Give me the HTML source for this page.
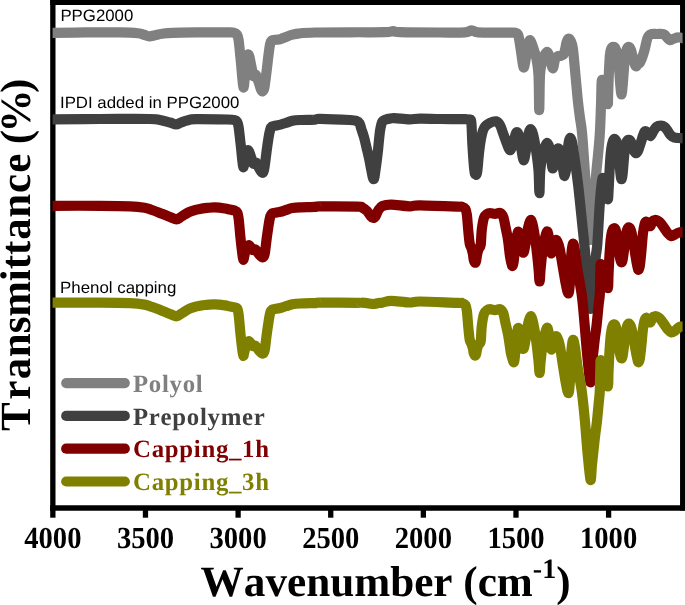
<!DOCTYPE html>
<html><head><meta charset="utf-8"><title>FTIR</title>
<style>
html,body{margin:0;padding:0;background:#fff;}
body{width:685px;height:605px;overflow:hidden;}
svg{display:block;font-kerning:none;text-rendering:geometricPrecision;}
.ser{font-family:"Liberation Serif",serif;font-weight:bold;}
.san{font-family:"Liberation Sans",sans-serif;}
</style></head><body>
<svg width="685" height="605" viewBox="0 0 685 605">
<rect width="685" height="605" fill="#fff"/>
<g fill="none" stroke="#000" stroke-width="5.3">
<line x1="50.2" y1="2.4" x2="685" y2="2.4"/>
<line x1="52.85" y1="0" x2="52.85" y2="510.5"/>
<line x1="682.7" y1="0" x2="682.7" y2="510.5"/>
<line x1="50.2" y1="508" x2="685" y2="508" stroke-width="5.6"/>
<line x1="52.85" y1="507.8" x2="52.85" y2="517.7"/><line x1="145.47" y1="507.8" x2="145.47" y2="517.7"/><line x1="238.10" y1="507.8" x2="238.10" y2="517.7"/><line x1="330.73" y1="507.8" x2="330.73" y2="517.7"/><line x1="423.35" y1="507.8" x2="423.35" y2="517.7"/><line x1="515.98" y1="507.8" x2="515.98" y2="517.7"/><line x1="608.60" y1="507.8" x2="608.60" y2="517.7"/>
</g>
<clipPath id="c"><rect x="52.6" y="0" width="630" height="520"/></clipPath>
<g fill="none" stroke-width="10.2" stroke-linejoin="round" stroke-linecap="butt" clip-path="url(#c)">
<path d="M45.0 32.9C46.3 32.9 46.2 33.0 52.9 32.9C59.5 32.8 73.8 32.5 85.0 32.4C96.2 32.3 111.2 32.3 120.0 32.4C128.8 32.5 134.0 32.8 138.0 33.2C142.0 33.6 142.1 34.3 144.0 34.8C145.9 35.3 147.5 36.2 149.3 36.3C151.1 36.4 152.9 35.6 155.0 35.2C157.1 34.8 159.1 34.2 162.0 33.8C164.9 33.4 166.3 33.0 172.6 32.8C178.9 32.6 190.8 32.5 200.0 32.4C209.2 32.3 222.3 32.3 228.0 32.4C233.7 32.5 232.5 32.4 234.0 32.8C235.5 33.1 236.2 33.3 237.0 34.5C237.8 35.7 238.0 36.1 238.6 40.0C239.2 43.9 239.8 51.3 240.5 58.0C241.2 64.7 242.0 75.1 242.5 80.0C243.0 84.9 243.1 87.2 243.4 87.5C243.7 87.8 244.0 85.6 244.4 82.0C244.8 78.4 245.3 70.6 246.0 66.0C246.7 61.4 247.6 54.2 248.5 54.4C249.4 54.6 250.7 63.5 251.5 67.1C252.3 70.7 252.7 74.7 253.4 76.0C254.1 77.3 255.0 73.6 255.9 74.8C256.8 76.0 258.0 80.5 258.9 83.0C259.8 85.5 260.4 88.1 261.0 89.5C261.6 90.9 262.0 91.6 262.6 91.2C263.2 90.8 263.9 90.2 264.5 87.0C265.1 83.8 265.8 77.3 266.5 72.0C267.2 66.7 267.9 59.7 268.5 55.0C269.1 50.3 269.6 46.4 270.1 44.0C270.7 41.6 270.8 41.2 271.8 40.5C272.8 39.8 274.6 40.0 276.0 39.8C277.4 39.6 278.8 39.6 280.5 39.1C282.2 38.6 284.0 37.8 286.0 37.0C288.0 36.2 290.1 35.2 292.4 34.6C294.7 34.0 296.2 33.6 300.0 33.3C303.8 32.9 306.7 32.7 315.0 32.5C323.3 32.3 338.3 32.3 350.0 32.3C361.7 32.2 377.8 32.4 385.0 32.2C392.2 32.0 390.5 31.2 393.0 31.2C395.5 31.2 392.2 32.0 400.0 32.2C407.8 32.4 429.2 32.5 440.0 32.5C450.8 32.5 459.7 32.7 465.0 32.3C470.3 31.9 469.6 30.3 471.8 30.3C474.0 30.3 473.3 31.9 478.0 32.3C482.7 32.7 494.3 32.5 500.0 32.6C505.7 32.7 509.2 32.5 512.0 32.6C514.8 32.7 515.4 32.6 516.5 33.2C517.6 33.8 517.8 33.5 518.5 36.0C519.2 38.5 519.8 43.7 520.5 48.0C521.2 52.3 522.0 58.7 522.5 62.0C523.0 65.3 523.3 67.6 523.8 67.6C524.2 67.6 524.6 65.3 525.2 62.0C525.8 58.7 526.7 51.6 527.5 48.0C528.3 44.4 528.9 40.4 529.8 40.2C530.7 40.0 531.9 43.9 533.0 47.0C534.1 50.1 535.6 54.3 536.5 59.0C537.4 63.7 538.0 66.5 538.5 75.0C539.0 83.5 539.0 110.1 539.2 110.1C539.5 110.1 539.5 83.0 540.0 75.0C540.5 67.0 541.2 65.3 542.0 62.0C542.8 58.7 543.7 56.6 544.6 55.0C545.5 53.4 546.7 51.6 547.6 52.1C548.5 52.6 549.1 55.3 550.0 58.0C550.9 60.7 552.0 68.0 552.8 68.3C553.6 68.5 554.2 61.5 555.0 59.5C555.8 57.5 556.5 56.9 557.5 56.3C558.5 55.7 560.0 56.1 561.0 55.8C562.0 55.5 562.8 55.6 563.5 54.5C564.2 53.4 564.7 51.0 565.2 49.0C565.7 47.0 566.0 44.2 566.5 42.5C567.0 40.8 567.8 38.9 568.5 38.7C569.2 38.5 570.3 39.8 571.0 41.5C571.7 43.2 572.2 44.0 572.9 48.7C573.6 53.5 574.2 61.6 575.0 70.0C575.8 78.4 576.9 91.3 577.7 99.3C578.5 107.3 579.2 112.1 580.0 118.0C580.8 123.9 581.3 124.1 582.2 134.6C583.1 145.1 584.5 166.8 585.5 181.0C586.5 195.2 587.7 210.2 588.5 220.0C589.3 229.8 589.8 240.0 590.5 240.0C591.2 240.0 591.7 229.8 592.5 220.0C593.3 210.2 594.3 194.8 595.5 181.0C596.7 167.2 598.7 149.7 599.6 137.0C600.5 124.3 600.6 114.4 601.0 105.0C601.4 95.6 601.3 83.3 601.8 80.5C602.3 77.7 603.0 84.1 604.0 88.0C605.0 91.9 606.8 102.8 607.5 104.0C608.2 105.2 607.9 99.8 608.1 95.0C608.3 90.2 608.5 81.7 608.8 75.0C609.1 68.3 609.5 59.4 609.9 55.0C610.3 50.6 610.7 49.9 611.3 48.5C611.9 47.1 612.6 46.9 613.3 46.9C614.0 46.9 614.8 47.1 615.5 48.5C616.2 49.9 616.9 51.8 617.5 55.0C618.1 58.2 618.5 63.0 619.0 68.0C619.5 73.0 619.9 80.6 620.3 85.0C620.7 89.4 621.1 94.5 621.5 94.5C621.9 94.5 622.3 89.4 622.7 85.0C623.1 80.6 623.6 73.0 624.0 68.0C624.4 63.0 624.8 58.2 625.3 55.0C625.8 51.8 626.4 49.9 627.0 48.5C627.6 47.1 628.2 46.6 628.9 46.9C629.6 47.1 630.3 48.1 631.0 50.0C631.7 51.9 632.2 55.3 633.0 58.0C633.8 60.7 634.8 65.0 635.6 66.1C636.4 67.1 637.1 64.9 637.8 64.3C638.5 63.7 639.3 63.5 640.0 62.5C640.7 61.5 641.2 60.0 642.0 58.0C642.8 56.0 643.6 53.5 644.5 50.2C645.4 46.9 646.5 40.6 647.5 38.0C648.5 35.4 648.9 35.0 650.5 34.3C652.1 33.6 654.8 34.0 657.0 34.0C659.2 34.0 662.2 33.7 663.9 34.3C665.6 34.9 666.0 36.5 667.0 37.5C668.0 38.5 668.8 39.9 669.8 40.1C670.8 40.4 671.8 39.4 673.0 39.0C674.2 38.6 675.8 37.8 677.0 37.5C678.2 37.2 679.2 37.4 680.2 37.5C681.2 37.6 681.1 38.0 682.7 38.3C684.3 38.5 688.8 38.9 690.0 39.0" stroke="#808080"/>
<path d="M45.0 119.3C46.3 119.3 43.7 119.3 52.9 119.3C62.0 119.2 83.8 119.0 100.0 119.0C116.2 119.0 140.0 118.8 150.0 119.0C160.0 119.2 156.7 119.4 160.0 120.0C163.3 120.6 167.3 121.8 170.0 122.5C172.7 123.2 174.2 124.5 176.0 124.5C177.8 124.5 179.0 123.2 181.0 122.5C183.0 121.8 185.6 120.8 188.0 120.3C190.4 119.8 189.0 119.3 195.7 119.2C202.4 119.1 221.6 119.4 228.0 119.5C234.4 119.6 232.5 119.7 234.0 120.0C235.5 120.3 236.2 120.4 237.0 121.6C237.8 122.8 238.0 123.4 238.6 127.0C239.2 130.6 239.8 137.2 240.5 143.0C241.2 148.8 242.0 157.9 242.5 162.0C243.0 166.1 243.0 167.1 243.3 167.3C243.6 167.5 244.0 165.1 244.4 163.0C244.8 160.9 245.3 157.1 246.0 155.0C246.7 152.9 247.7 150.0 248.5 150.3C249.3 150.6 250.2 154.8 251.0 157.0C251.8 159.2 252.3 162.5 253.2 163.5C254.1 164.5 255.3 162.1 256.3 162.8C257.3 163.6 258.1 166.4 259.0 168.0C259.9 169.6 261.1 172.2 261.9 172.5C262.7 172.8 263.2 173.4 264.0 170.0C264.8 166.6 265.8 157.3 266.5 152.0C267.2 146.7 267.9 141.8 268.5 138.0C269.1 134.2 269.8 130.9 270.4 129.0C270.9 127.1 270.9 127.2 271.8 126.6C272.7 126.0 274.6 125.8 276.0 125.5C277.4 125.2 278.8 125.0 280.5 124.6C282.2 124.1 284.0 123.4 286.0 122.8C288.0 122.2 290.1 121.3 292.4 120.8C294.7 120.3 296.2 120.2 300.0 120.0C303.8 119.8 311.7 119.8 315.0 119.6C318.3 119.4 314.2 118.8 320.0 118.9C325.8 119.0 344.0 119.7 350.0 120.0C356.0 120.3 354.4 120.3 356.0 120.8C357.6 121.3 358.5 121.5 359.4 123.0C360.3 124.5 360.7 127.1 361.5 129.5C362.3 131.9 363.1 134.1 364.0 137.2C364.9 140.3 365.7 144.3 366.6 148.0C367.5 151.7 368.6 156.0 369.3 159.5C370.1 163.0 370.5 166.1 371.1 169.0C371.7 171.9 372.3 175.3 372.7 177.0C373.1 178.7 373.3 179.2 373.6 179.2C373.9 179.2 374.1 179.4 374.5 177.0C374.9 174.6 375.6 169.2 376.2 165.0C376.8 160.8 377.3 156.3 377.8 152.1C378.3 147.9 378.6 143.5 379.0 140.0C379.4 136.5 379.6 133.5 380.0 131.0C380.4 128.5 380.8 126.6 381.2 125.0C381.6 123.4 381.7 122.4 382.5 121.5C383.3 120.6 384.8 120.0 386.0 119.5C387.2 119.0 388.5 118.8 389.9 118.6C391.3 118.4 391.2 118.0 394.4 118.1C397.6 118.2 405.0 119.2 409.3 119.3C413.6 119.4 414.9 118.6 420.0 118.6C425.1 118.5 432.5 118.9 440.0 119.0C447.5 119.1 460.1 119.1 465.0 119.2C469.9 119.3 468.4 119.3 469.5 119.8C470.6 120.3 470.8 117.9 471.3 122.0C471.8 126.1 471.9 136.6 472.4 144.6C472.9 152.6 473.7 165.0 474.3 170.0C474.9 175.0 475.3 174.5 475.8 174.7C476.3 174.9 476.8 174.6 477.3 171.0C477.8 167.4 478.4 158.4 479.0 153.0C479.6 147.6 480.3 142.4 481.0 138.7C481.7 134.9 482.2 132.6 483.0 130.5C483.8 128.4 484.3 127.3 485.5 126.0C486.7 124.7 488.3 123.6 490.0 122.8C491.7 122.0 494.2 120.9 495.9 121.3C497.6 121.7 498.8 123.0 500.0 125.0C501.2 127.0 501.8 129.8 503.0 133.0C504.2 136.2 505.8 141.1 507.0 144.0C508.2 146.9 509.2 150.4 510.2 150.2C511.2 150.0 512.1 145.6 513.0 143.0C513.9 140.4 514.8 136.3 515.5 134.5C516.2 132.7 516.5 131.8 517.1 132.1C517.7 132.3 518.3 133.0 519.0 136.0C519.7 139.0 520.7 145.9 521.5 150.0C522.3 154.1 523.0 160.3 523.8 160.3C524.5 160.3 525.2 154.4 526.0 150.0C526.8 145.6 527.8 137.5 528.5 134.0C529.2 130.5 529.8 129.1 530.5 129.1C531.2 129.1 532.1 130.5 533.0 134.0C533.9 137.5 535.1 144.0 536.0 150.0C536.9 156.0 537.9 162.8 538.5 170.0C539.1 177.2 539.1 193.1 539.4 193.1C539.7 193.1 539.7 176.8 540.3 170.0C540.9 163.2 542.0 156.2 543.0 152.0C544.0 147.8 545.2 145.9 546.0 144.5C546.8 143.1 547.0 142.7 547.6 143.3C548.2 143.9 548.9 144.9 549.5 148.0C550.1 151.1 551.0 158.6 551.5 162.0C552.0 165.4 552.3 168.5 552.8 168.5C553.3 168.5 553.6 164.9 554.3 162.0C555.0 159.1 556.0 153.2 556.8 151.0C557.5 148.8 558.1 147.8 558.8 148.5C559.5 149.2 560.3 151.4 561.0 155.0C561.7 158.6 562.6 166.5 563.2 170.0C563.8 173.5 564.2 176.3 564.7 176.0C565.2 175.7 565.7 173.2 566.3 168.0C566.9 162.8 567.7 150.0 568.3 145.0C568.9 140.0 569.3 138.6 569.9 138.1C570.5 137.6 571.2 138.7 572.0 142.0C572.8 145.3 573.5 150.9 574.5 158.0C575.5 165.1 576.7 172.7 578.1 184.6C579.5 196.5 581.5 217.1 582.8 229.5C584.1 241.9 584.8 248.4 585.7 259.3C586.7 270.2 587.7 286.7 588.5 295.0C589.3 303.3 589.9 309.0 590.6 309.0C591.3 309.0 591.8 303.3 592.6 295.0C593.4 286.7 594.7 267.7 595.5 259.3C596.3 250.9 596.7 251.9 597.3 244.4C597.9 236.9 598.6 222.8 599.1 214.6C599.6 206.4 599.9 201.1 600.5 195.0C601.1 188.9 601.8 179.2 602.5 178.0C603.2 176.8 604.1 184.4 605.0 188.0C605.9 191.6 607.1 199.0 607.7 199.3C608.3 199.6 608.3 194.6 608.6 190.0C608.9 185.4 609.2 177.8 609.5 172.0C609.8 166.2 610.2 159.6 610.6 155.0C611.0 150.4 611.4 147.2 612.0 144.5C612.6 141.8 613.2 139.6 614.0 139.1C614.8 138.6 615.8 140.0 616.5 141.5C617.2 143.0 617.5 144.9 618.0 148.0C618.5 151.1 618.9 155.7 619.3 160.0C619.7 164.3 620.1 170.8 620.5 174.0C620.9 177.2 621.1 179.2 621.5 179.2C621.9 179.2 622.2 177.2 622.6 174.0C623.0 170.8 623.4 164.3 623.8 160.0C624.2 155.7 624.5 151.1 625.0 148.0C625.5 144.9 626.1 142.8 626.7 141.5C627.4 140.2 628.2 139.8 628.9 139.9C629.6 140.0 630.3 140.5 631.0 142.0C631.7 143.5 632.2 147.2 633.0 149.0C633.8 150.8 634.8 152.8 635.6 153.1C636.4 153.4 637.1 152.8 638.0 151.0C638.9 149.2 639.9 145.2 641.0 142.0C642.1 138.8 643.4 133.2 644.5 131.7C645.6 130.2 646.5 132.3 647.5 133.0C648.5 133.7 649.5 136.3 650.5 136.0C651.5 135.7 652.5 132.5 653.5 131.0C654.5 129.5 655.3 127.7 656.5 126.8C657.7 125.9 659.6 125.7 660.9 125.7C662.2 125.7 663.4 126.0 664.5 126.8C665.6 127.6 666.5 129.1 667.5 130.5C668.5 131.9 669.4 133.8 670.5 135.0C671.6 136.2 673.0 137.0 674.3 137.5C675.5 138.0 676.6 137.9 678.0 138.0C679.4 138.1 680.7 138.2 682.7 138.2C684.7 138.2 688.8 138.2 690.0 138.2" stroke="#404040"/>
<path d="M45.0 205.8C46.3 205.8 43.7 205.8 52.9 205.8C62.0 205.8 87.1 205.7 100.0 205.8C112.9 205.9 122.6 206.0 130.0 206.3C137.4 206.6 140.9 207.1 144.6 207.7C148.3 208.3 149.6 209.2 152.0 210.0C154.4 210.8 156.2 211.5 159.2 212.7C162.2 213.9 167.1 215.9 170.0 217.0C172.9 218.1 174.6 219.4 176.4 219.4C178.2 219.4 179.0 218.2 181.0 217.0C183.0 215.8 186.2 213.5 188.4 212.4C190.6 211.3 192.1 210.9 194.0 210.3C195.9 209.7 197.8 209.3 200.0 208.9C202.2 208.5 204.6 208.2 207.0 207.9C209.4 207.7 211.7 207.3 214.7 207.4C217.7 207.5 222.4 208.1 225.0 208.5C227.6 208.9 228.4 209.3 230.0 209.6C231.6 209.9 233.3 210.0 234.5 210.5C235.7 211.0 236.6 210.9 237.3 212.5C238.0 214.1 238.3 215.8 238.8 220.0C239.3 224.2 239.9 232.2 240.5 238.0C241.1 243.8 242.0 251.4 242.5 255.0C243.0 258.6 243.0 259.5 243.3 259.7C243.6 259.9 243.9 257.8 244.3 256.0C244.8 254.2 245.2 250.8 246.0 249.0C246.8 247.2 247.8 244.9 248.9 245.0C250.0 245.1 251.4 249.0 252.5 249.8C253.6 250.6 254.4 248.8 255.5 249.6C256.6 250.3 257.8 253.0 259.0 254.3C260.2 255.6 261.7 257.6 262.6 257.5C263.6 257.4 264.1 256.9 264.7 254.0C265.3 251.1 265.9 244.7 266.5 240.0C267.1 235.3 267.9 230.0 268.5 226.0C269.1 222.0 269.8 218.1 270.4 216.0C271.0 213.9 271.4 213.9 272.3 213.3C273.2 212.7 274.6 212.8 276.0 212.6C277.4 212.3 278.8 212.2 280.5 211.8C282.2 211.4 284.0 210.6 286.0 210.0C288.0 209.4 290.1 208.5 292.4 208.1C294.7 207.7 296.2 207.5 300.0 207.3C303.8 207.1 311.7 207.1 315.0 206.9C318.3 206.8 313.0 206.5 320.0 206.4C327.0 206.3 350.2 206.4 357.2 206.6C364.2 206.8 360.4 206.8 362.0 207.5C363.6 208.2 365.5 209.5 367.0 211.0C368.5 212.5 370.0 215.3 371.0 216.5C372.0 217.7 372.4 218.0 373.1 218.0C373.8 218.0 374.4 217.8 375.3 216.5C376.2 215.2 377.3 211.8 378.5 210.0C379.7 208.2 380.4 206.9 382.5 206.0C384.6 205.1 386.9 204.5 391.4 204.6C395.9 204.7 404.5 206.2 409.3 206.3C414.1 206.4 412.0 205.2 420.0 205.3C428.0 205.4 450.2 206.3 457.2 206.6C464.2 206.8 460.6 206.4 462.0 206.8C463.4 207.2 464.6 207.5 465.4 208.8C466.2 210.1 466.4 210.9 466.9 214.8C467.4 218.7 467.9 227.2 468.4 232.0C468.9 236.8 469.2 240.8 469.7 243.5C470.2 246.2 471.1 246.8 471.6 248.5C472.1 250.2 472.5 252.1 472.9 254.0C473.3 255.9 473.4 258.6 473.8 260.0C474.2 261.4 474.7 262.6 475.1 262.7C475.5 262.8 475.9 261.9 476.2 260.5C476.5 259.1 476.8 255.9 477.2 254.0C477.6 252.1 478.0 250.5 478.6 249.0C479.2 247.5 480.2 248.2 480.7 245.0C481.2 241.8 481.2 234.2 481.8 229.6C482.4 225.0 483.1 220.3 484.0 217.7C484.9 215.1 486.0 214.8 487.0 214.0C488.0 213.2 488.7 213.0 490.0 213.0C491.3 213.0 493.3 214.0 495.0 214.0C496.7 214.0 499.0 212.5 500.4 213.0C501.8 213.5 502.4 214.7 503.3 217.0C504.2 219.3 504.8 223.4 505.5 227.0C506.2 230.6 507.1 233.7 507.8 238.6C508.6 243.5 509.4 252.2 510.0 256.4C510.6 260.5 511.1 261.9 511.5 263.5C511.9 265.1 512.1 266.2 512.5 266.0C512.9 265.8 513.1 265.5 513.6 262.0C514.1 258.5 514.8 250.0 515.5 245.0C516.2 240.0 517.1 233.1 517.9 231.9C518.6 230.7 519.1 234.6 520.0 238.0C520.9 241.4 522.2 251.6 523.1 252.6C524.0 253.6 524.7 248.1 525.5 244.0C526.3 239.9 527.2 232.0 528.0 228.0C528.8 224.0 529.7 220.3 530.5 220.0C531.3 219.7 532.1 221.8 533.0 226.0C533.9 230.2 535.1 238.0 536.0 245.0C536.9 252.0 537.9 261.9 538.5 268.0C539.1 274.1 539.2 281.5 539.6 281.5C540.0 281.5 540.1 273.8 540.7 268.0C541.3 262.2 542.1 252.7 543.0 247.0C543.9 241.3 545.2 236.5 546.0 234.0C546.8 231.5 547.1 230.9 547.6 231.9C548.1 232.9 548.7 236.4 549.3 240.0C549.9 243.6 550.6 252.5 551.3 253.3C552.0 254.1 552.6 247.2 553.5 245.0C554.4 242.8 555.5 239.6 556.5 240.1C557.5 240.6 558.4 243.3 559.5 248.0C560.6 252.7 561.9 261.8 563.0 268.0C564.1 274.2 565.1 280.8 566.0 285.0C566.9 289.2 567.7 293.5 568.3 293.5C568.9 293.5 569.2 291.4 569.7 285.0C570.2 278.6 570.8 261.9 571.3 255.0C571.8 248.1 572.3 244.6 572.9 243.8C573.5 243.0 574.0 245.6 574.8 250.0C575.6 254.4 576.4 262.6 577.5 270.0C578.6 277.4 580.6 285.9 581.7 294.6C582.9 303.3 583.5 311.9 584.4 322.0C585.3 332.1 586.2 345.0 587.2 355.0C588.2 365.0 589.5 379.8 590.2 382.0C590.9 384.2 591.1 372.5 591.6 368.0C592.1 363.5 592.5 359.8 593.0 355.0C593.5 350.2 594.2 344.1 594.8 339.0C595.4 333.9 596.1 330.1 596.7 324.4C597.3 318.7 598.1 310.0 598.6 305.0C599.1 300.0 599.5 299.6 599.8 294.6C600.1 289.6 600.1 280.1 600.3 275.0C600.5 269.9 600.2 264.0 600.8 264.0C601.4 264.0 602.9 271.0 604.0 275.0C605.1 279.0 607.0 288.2 607.7 288.2C608.5 288.2 608.2 280.5 608.5 275.0C608.8 269.5 609.1 260.9 609.5 255.0C609.9 249.1 610.3 243.5 610.7 239.6C611.1 235.7 611.5 233.4 612.0 231.5C612.5 229.6 613.3 228.3 614.0 228.2C614.7 228.1 615.5 229.1 616.0 231.0C616.5 232.9 616.8 236.1 617.3 239.6C617.8 243.1 618.5 248.6 619.0 252.0C619.5 255.4 620.1 258.3 620.5 260.0C620.9 261.7 621.1 262.3 621.5 262.3C621.9 262.3 622.2 262.1 622.6 260.0C623.0 257.9 623.5 253.8 624.0 250.0C624.5 246.2 625.0 240.3 625.5 237.0C626.0 233.7 626.4 231.6 627.0 230.0C627.6 228.4 628.2 227.3 628.9 227.4C629.6 227.5 630.3 228.4 631.0 230.5C631.7 232.6 632.2 235.8 633.0 240.0C633.8 244.2 634.8 251.5 635.5 256.0C636.2 260.5 637.0 264.7 637.5 267.0C638.0 269.3 638.2 269.9 638.6 269.7C639.0 269.5 639.3 269.3 639.8 266.0C640.3 262.7 641.0 255.5 641.5 250.0C642.0 244.5 642.5 237.2 643.0 233.0C643.5 228.8 644.0 226.4 644.5 224.5C645.0 222.6 645.3 221.6 646.0 221.5C646.7 221.4 647.8 223.2 648.5 224.0C649.2 224.8 649.8 226.4 650.5 226.0C651.2 225.6 651.8 222.5 652.5 221.5C653.2 220.5 654.0 220.1 654.9 220.0C655.8 219.9 657.0 220.2 658.0 220.8C659.0 221.4 659.9 222.2 661.0 223.5C662.1 224.8 663.3 226.8 664.5 228.5C665.7 230.2 666.9 232.2 668.0 233.5C669.1 234.8 670.1 236.0 671.3 236.2C672.5 236.4 673.7 235.1 675.0 234.5C676.3 233.9 677.7 232.9 679.0 232.5C680.3 232.1 680.9 232.1 682.7 231.8C684.5 231.5 688.8 230.7 690.0 230.5" stroke="#800000"/>
<path d="M45.0 302.7C46.3 302.7 43.7 302.7 52.9 302.7C62.0 302.7 87.1 302.6 100.0 302.7C112.9 302.8 122.6 302.9 130.0 303.2C137.4 303.5 140.9 304.0 144.6 304.6C148.3 305.2 149.6 306.1 152.0 306.9C154.4 307.7 156.2 308.4 159.2 309.6C162.2 310.8 167.1 312.8 170.0 313.9C172.9 315.0 174.6 316.3 176.4 316.3C178.2 316.3 179.0 315.1 181.0 313.9C183.0 312.7 186.2 310.4 188.4 309.3C190.6 308.2 192.1 307.8 194.0 307.2C195.9 306.6 197.8 306.2 200.0 305.8C202.2 305.4 204.6 305.1 207.0 304.8C209.4 304.6 211.7 304.2 214.7 304.3C217.7 304.4 222.4 305.0 225.0 305.4C227.6 305.8 228.4 306.2 230.0 306.5C231.6 306.8 233.3 307.0 234.5 307.4C235.7 307.8 236.6 307.2 237.3 308.7C238.0 310.2 238.3 311.9 238.8 316.2C239.3 320.4 239.9 328.4 240.5 334.2C241.1 340.0 242.0 347.6 242.5 351.2C243.0 354.8 243.0 355.7 243.3 355.9C243.6 356.1 243.9 354.0 244.3 352.2C244.8 350.4 245.2 347.0 246.0 345.2C246.8 343.4 247.8 341.1 248.9 341.2C250.0 341.3 251.4 345.2 252.5 346.0C253.6 346.8 254.4 345.1 255.5 345.8C256.6 346.6 257.8 349.2 259.0 350.5C260.2 351.8 261.7 353.8 262.6 353.7C263.6 353.6 264.1 353.1 264.7 350.2C265.3 347.3 265.9 340.9 266.5 336.2C267.1 331.5 267.9 326.2 268.5 322.2C269.1 318.2 269.8 314.3 270.4 312.2C271.0 310.1 271.4 310.1 272.3 309.5C273.2 308.9 274.6 309.1 276.0 308.8C277.4 308.6 278.8 308.4 280.5 308.0C282.2 307.6 284.0 306.8 286.0 306.2C288.0 305.6 290.1 304.8 292.4 304.3C294.7 303.9 296.2 303.7 300.0 303.5C303.8 303.3 311.7 303.2 315.0 303.1C318.3 303.0 313.0 302.7 320.0 302.6C327.0 302.6 350.2 302.8 357.2 302.8C364.2 302.8 360.4 302.7 362.0 302.7C363.6 302.8 365.5 303.0 367.0 303.1C368.5 303.3 370.0 303.7 371.0 303.8C372.0 303.9 372.4 304.0 373.1 304.0C373.8 304.0 374.4 304.0 375.3 303.8C376.2 303.6 377.3 303.2 378.5 303.0C379.7 302.8 380.4 302.9 382.5 302.6C384.6 302.2 386.9 300.8 391.4 300.8C395.9 300.8 404.5 302.4 409.3 302.5C414.1 302.6 412.0 301.4 420.0 301.5C428.0 301.6 450.2 302.6 457.2 302.8C464.2 303.1 460.6 302.6 462.0 303.0C463.4 303.4 464.6 303.7 465.4 305.0C466.2 306.3 466.4 307.1 466.9 311.0C467.4 314.9 467.9 323.4 468.4 328.2C468.9 333.0 469.2 337.1 469.7 339.7C470.2 342.3 471.1 342.6 471.6 344.1C472.1 345.5 472.5 347.0 472.9 348.5C473.3 350.1 473.4 352.2 473.8 353.4C474.2 354.6 474.7 355.5 475.1 355.6C475.5 355.7 475.9 355.0 476.2 353.8C476.5 352.6 476.8 350.1 477.2 348.5C477.6 347.0 478.0 345.7 478.6 344.4C479.2 343.2 480.2 344.3 480.7 341.2C481.2 338.1 481.2 330.4 481.8 325.8C482.4 321.2 483.1 316.5 484.0 313.9C484.9 311.3 486.0 311.0 487.0 310.2C488.0 309.4 488.7 309.2 490.0 309.2C491.3 309.2 493.3 310.2 495.0 310.2C496.7 310.2 499.0 308.7 500.4 309.2C501.8 309.7 502.4 310.9 503.3 313.2C504.2 315.5 504.7 319.6 505.5 323.2C506.3 326.8 507.2 329.9 508.1 334.8C509.0 339.7 510.1 348.5 510.8 352.6C511.6 356.8 512.2 358.1 512.7 359.7C513.2 361.3 513.6 362.4 513.9 362.2C514.2 361.9 514.4 361.7 514.7 358.2C515.1 354.7 515.7 346.2 516.2 341.2C516.8 336.2 517.4 329.3 518.0 328.1C518.7 326.9 519.2 330.8 520.0 334.2C520.8 337.6 522.2 347.8 523.1 348.8C524.0 349.8 524.7 344.3 525.5 340.2C526.3 336.1 527.2 328.2 528.0 324.2C528.8 320.2 529.7 316.5 530.5 316.2C531.3 315.9 532.1 318.3 533.0 322.2C533.9 326.1 535.1 333.2 536.0 339.6C536.9 346.0 537.9 355.1 538.5 360.6C539.1 366.2 539.2 373.0 539.6 373.0C540.0 373.0 540.1 365.9 540.7 360.6C541.3 355.4 542.1 346.5 543.0 341.4C543.9 336.3 545.2 332.4 546.0 330.2C546.8 328.0 547.1 327.1 547.6 328.1C548.1 329.1 548.7 332.6 549.3 336.2C549.9 339.8 550.6 348.7 551.3 349.5C552.0 350.3 552.6 343.4 553.5 341.2C554.4 339.0 555.5 335.8 556.5 336.3C557.5 336.8 558.4 339.3 559.5 344.2C560.6 349.1 561.9 359.2 563.0 365.9C564.1 372.5 565.1 379.6 566.0 384.1C566.9 388.7 567.7 393.2 568.3 393.2C568.9 393.2 569.2 391.0 569.7 384.1C570.2 377.2 570.8 359.3 571.3 352.0C571.8 344.6 572.3 341.0 572.9 340.0C573.5 339.0 574.0 341.8 574.8 346.2C575.6 350.6 576.4 358.8 577.5 366.2C578.6 373.6 580.5 382.1 581.7 390.8C582.9 399.5 583.7 408.3 584.7 418.6C585.7 428.8 586.5 442.0 587.5 452.2C588.5 462.5 589.8 477.6 590.5 479.8C591.2 482.0 591.4 470.1 591.9 465.5C592.4 460.9 592.8 457.2 593.3 452.2C593.8 447.3 594.5 441.1 595.1 435.9C595.7 430.7 596.4 426.8 597.0 421.0C597.6 415.2 598.4 406.3 598.9 401.2C599.4 396.2 599.6 395.8 599.8 390.8C600.0 385.8 600.1 376.3 600.3 371.2C600.5 366.1 600.2 360.0 600.8 360.2C601.4 360.4 602.9 367.8 604.0 372.1C605.1 376.5 607.0 386.5 607.7 386.5C608.5 386.5 608.2 378.0 608.5 372.1C608.8 366.3 609.1 357.3 609.5 351.2C609.9 345.1 610.3 339.7 610.7 335.8C611.1 331.9 611.5 329.6 612.0 327.7C612.5 325.8 613.3 324.5 614.0 324.4C614.7 324.3 615.5 325.3 616.0 327.2C616.5 329.1 616.8 332.3 617.3 335.8C617.8 339.3 618.5 344.8 619.0 348.2C619.5 351.6 620.1 354.5 620.5 356.2C620.9 357.9 621.1 358.5 621.5 358.5C621.9 358.5 622.2 358.2 622.6 356.2C623.0 354.1 623.5 350.0 624.0 346.2C624.5 342.4 625.0 336.5 625.5 333.2C626.0 329.9 626.4 327.8 627.0 326.2C627.6 324.6 628.2 323.5 628.9 323.6C629.6 323.7 630.3 324.8 631.0 326.7C631.7 328.6 632.2 331.3 633.0 335.1C633.8 338.9 634.8 345.6 635.5 349.7C636.2 353.8 637.0 357.7 637.5 359.7C638.0 361.8 638.2 362.4 638.6 362.2C639.0 362.0 639.3 361.8 639.8 358.8C640.3 355.8 641.0 349.2 641.5 344.2C642.0 339.2 642.5 332.6 643.0 328.7C643.5 324.8 644.0 322.5 644.5 320.7C645.0 318.9 645.3 317.8 646.0 317.7C646.7 317.6 647.8 319.4 648.5 320.2C649.2 320.9 649.8 322.6 650.5 322.2C651.2 321.8 651.8 318.7 652.5 317.7C653.2 316.7 654.0 316.3 654.9 316.2C655.8 316.1 657.0 316.4 658.0 317.0C659.0 317.6 659.9 318.4 661.0 319.7C662.1 321.0 663.3 323.0 664.5 324.7C665.7 326.4 666.9 328.4 668.0 329.7C669.1 331.0 670.1 332.2 671.3 332.4C672.5 332.6 673.7 331.6 675.0 330.7C676.3 329.8 677.7 327.9 679.0 327.2C680.3 326.5 680.9 326.8 682.7 326.5C684.5 326.2 688.8 325.4 690.0 325.2" stroke="#808000"/>
</g>
<g class="san" font-size="16.4" fill="#000">
<text transform="translate(60.4 21.3) scale(1.025 1)">PPG2000</text>
<text transform="translate(60.0 107.8) scale(1.025 1)">IPDI added in PPG2000</text>
<text transform="translate(60.0 293.4) scale(1.03 1)">Phenol capping</text>
</g>
<g class="ser" font-size="24.8" letter-spacing="0.72" stroke-width="10.2" stroke-linecap="round">
<line x1="66.2" y1="383.1" x2="124.8" y2="383.1" stroke="#808080"/><text x="133" y="391.7" fill="#808080">Polyol</text>
<line x1="66.2" y1="415.9" x2="124.8" y2="415.9" stroke="#404040"/><text x="133" y="424.5" fill="#404040">Prepolymer</text>
<line x1="66.2" y1="448.7" x2="124.8" y2="448.7" stroke="#800000"/><text x="133" y="457.3" fill="#800000">Capping_1h</text>
<line x1="66.2" y1="481.5" x2="124.8" y2="481.5" stroke="#808000"/><text x="133" y="490.1" fill="#808000">Capping_3h</text>
</g>
<g class="ser" font-size="28.6" text-anchor="middle" fill="#000">
<text transform="translate(52.85 547.9) scale(1 1.07)">4000</text><text transform="translate(145.47 547.9) scale(1 1.07)">3500</text><text transform="translate(238.10 547.9) scale(1 1.07)">3000</text><text transform="translate(330.73 547.9) scale(1 1.07)">2500</text><text transform="translate(423.35 547.9) scale(1 1.07)">2000</text><text transform="translate(515.98 547.9) scale(1 1.07)">1500</text><text transform="translate(608.60 547.9) scale(1 1.07)">1000</text>
</g>
<text class="ser" font-size="43.2" x="200.6" y="596" fill="#000">Wavenumber (cm<tspan font-size="28" dy="-18">-1</tspan><tspan dy="18">)</tspan></text>
<text class="ser" font-size="43" fill="#000" transform="translate(30.2 431) rotate(-90)" x="0.0 31.2 51.8 73.7 97.8 114.2 149.7 161.7 176.0 191.3 213.3 237.9 258.3 276.9 286.7 298.6 338.0">Transmittance (%)</text>
</svg>
</body></html>
